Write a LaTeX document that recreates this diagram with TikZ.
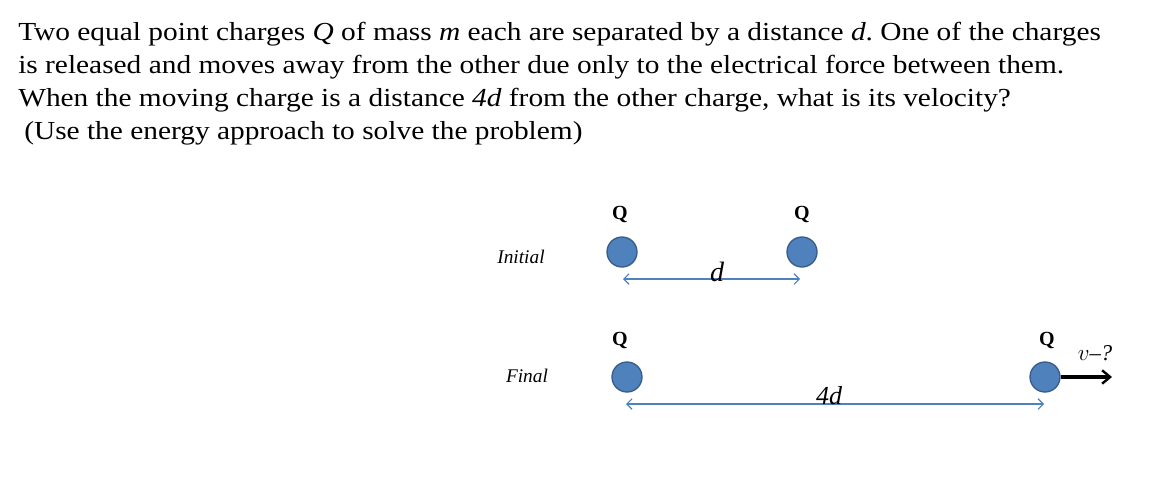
\documentclass[tikz,border=0pt]{standalone}
\usepackage{fontspec}
\setmainfont{Liberation Serif}
\newfontfamily\qfam[FakeStretch=1.13]{Liberation Serif}
\usetikzlibrary{arrows.meta}
\definecolor{chargefill}{HTML}{4F81BD}
\definecolor{chargedraw}{HTML}{385D8A}
\definecolor{dimline}{HTML}{4F81BD}
\tikzset{
  qtext/.style={anchor=base west, inner sep=0pt, font=\qfam\fontsize{19.5}{24}\selectfont},
  charge/.style={circle, minimum size=22.5pt, inner sep=0pt, fill=chargefill, draw=chargedraw, line width=1pt},
  qlabel/.style={inner sep=0pt, font=\fontsize{15}{18}\selectfont\bfseries},
  rowlabel/.style={inner sep=0pt, anchor=base, font=\fontsize{14.5}{17}\selectfont\itshape},
  dimarrow/.style={draw=dimline, line width=0.8pt, {Straight Barb[length=4pt,width=8pt]}-{Straight Barb[length=4pt,width=8pt]}},
  dimlabel/.style={inner sep=0pt, anchor=base, font=\fontsize{21}{24}\selectfont\itshape},
  velarrow/.style={draw=black, line width=2.3pt, -{Straight Barb[length=6pt,width=10pt,line width=1.8pt]}}
}
\begin{document}
\frenchspacing
\begin{tikzpicture}[x=0.75pt,y=-0.75pt]
\useasboundingbox (0,0) rectangle (1168,490);
\node[qtext] (l1) at (18,40) {Two equal point charges \textit{Q} of mass \textit{m} each are separated by a distance \textit{d}. One of the charges};
\node[qtext] (l2) at (18,73) {is released and moves away from the other due only to the electrical force between them.};
\node[qtext] (l3) at (18,106) {When the moving charge is a distance \textit{4d} from the other charge, what is its velocity?};
\node[qtext] (l4) at (24,139) {(Use the energy approach to solve the problem)};

% Initial
\node[rowlabel] (init) at (521,263) {Initial};
\node[charge] (c1) at (622,252) {};
\node[charge] (c2) at (802,252) {};
\node[qlabel] (q1) at (620,214) {Q};
\node[qlabel] (q2) at (802,214) {Q};
\coordinate (a1) at (623,279);
\coordinate (a2) at (800,279);
\draw[dimarrow] (a1) -- (a2);
\node[dimlabel] (d) at (717,281) {d};

% Final
\node[rowlabel] (fin) at (527,382) {Final};
\node[charge] (c3) at (627,377) {};
\node[charge] (c4) at (1045,377) {};
\node[qlabel] (q3) at (620,340) {Q};
\node[qlabel] (q4) at (1047,340) {Q};
\coordinate (b1) at (626,404);
\coordinate (b2) at (1044,404);
\draw[dimarrow] (b1) -- (b2);
\node[dimlabel, font=\fontsize{19.5}{22}\selectfont\itshape] (fd) at (829,404) {4d};
\coordinate (vend) at (1112,377);
\draw[velarrow] (c4.east) -- (vend);
\node[inner sep=0pt, font=\fontsize{17}{19}\selectfont] (vl) at (1095,353) {$v$\textit{--?}};
\end{tikzpicture}
\end{document}
